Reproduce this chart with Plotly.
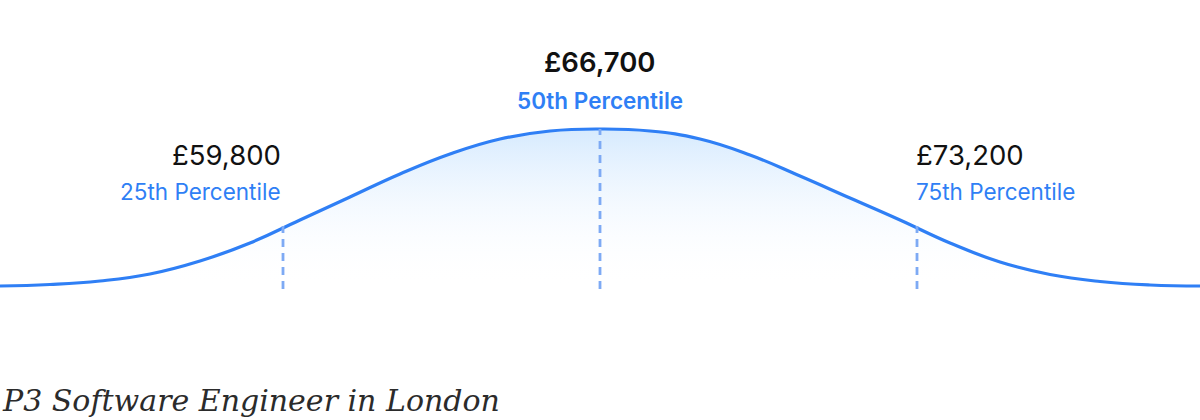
'''salary distribution chart for P3 Software Engineer in London using plotly'''
import plotly.graph_objects as go

# curve position (0-1200 across the page) and curve height above the baseline
curve_x = [0, 50, 100, 150, 200, 250, 300, 350, 400, 450, 500, 550, 600,
           650, 700, 750, 800, 850, 900, 950, 1000, 1050, 1100, 1150, 1200]
curve_h = [1, 2.5, 6, 13, 26, 44, 67, 90, 113, 133, 148, 156, 158,
           156, 148, 132, 111, 89, 67, 44, 25, 12.5, 5.5, 2, 1]

# percentile markers: position, curve height there, salary and label
pct_x = [283, 600, 917]
pct_h = [61, 158, 61]
pct_salary = ["£59,800", "£66,700", "£73,200"]
pct_label = ["25th Percentile", "50th Percentile", "75th Percentile"]

title = "P3 Software Engineer in London"

blue = "#2f7ff5"
dash_blue = "#7eaaf4"

fig = go.Figure()

fig.add_trace(go.Scatter(
    x=curve_x, y=curve_h,
    mode="lines",
    line=dict(color=blue, width=3.2, shape="spline", smoothing=1.3),
    fill="tozeroy",
    fillgradient=dict(type="vertical",
                      colorscale=[[0, "rgba(255,255,255,0)"], [1, "rgba(214,234,254,1)"]]),
    hoverinfo="skip",
    showlegend=False,
))

# dashed markers from baseline up to the curve
for i in range(len(pct_x)):
    fig.add_trace(go.Scatter(
        x=[pct_x[i], pct_x[i]], y=[-2, pct_h[i]],
        mode="lines",
        line=dict(color=dash_blue, width=2.8, dash="8px,6px"),
        hoverinfo="skip",
        showlegend=False,
    ))

# labels: left one right-aligned, middle centred, right one left-aligned
anchors = ["right", "center", "left"]
salary_y = [132, 225, 132]
label_y = [96, 187, 96]
for i in range(3):
    mid = i == 1
    xpos = pct_x[i] if i != 2 else pct_x[i] - 3
    fig.add_annotation(
        x=xpos, y=salary_y[i], text=pct_salary[i], showarrow=False,
        xanchor=anchors[i], yanchor="middle",
        font=dict(family="Inter", size=27.5, color="#111111",
                  weight=600 if mid else 400),
    )
    fig.add_annotation(
        x=xpos, y=label_y[i], text=pct_label[i], showarrow=False,
        xanchor=anchors[i], yanchor="middle",
        font=dict(family="Inter", size=22.5, color=blue,
                  weight=600 if mid else 400),
    )

fig.add_annotation(
    x=0, y=-113, text=title, showarrow=False,
    xanchor="left", yanchor="middle",
    font=dict(family="DejaVu Serif", size=30, color="#2b2b2b", style="italic"),
)

fig.update_layout(
    width=1200, height=420,
    margin=dict(l=0, r=0, t=0, b=0),
    paper_bgcolor="white",
    plot_bgcolor="white",
    xaxis=dict(range=[0, 1200], visible=False, fixedrange=True),
    yaxis=dict(range=[-133, 287], visible=False, fixedrange=True),
)

fig.write_html("out.html",
               config={"displayModeBar": False},
               post_script="document.body.style.margin='0px';document.body.style.overflow='hidden';")
